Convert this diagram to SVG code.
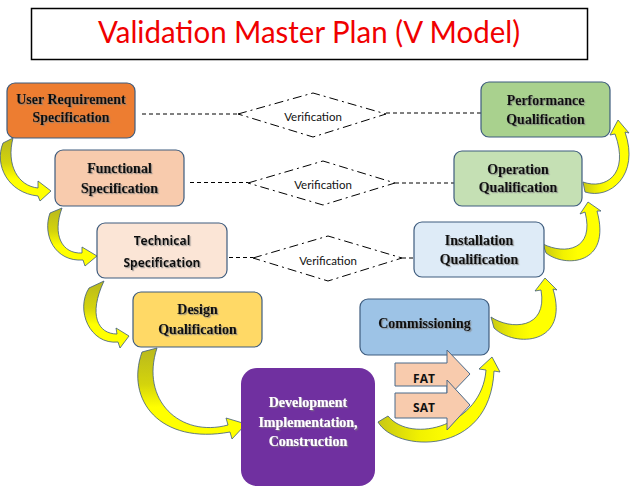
<svg xmlns="http://www.w3.org/2000/svg" width="633" height="491" viewBox="0 0 633 491">
<style>
.box{stroke:#3E5C7E;stroke-width:1.2}
.nt{font-family:"Liberation Serif","Times New Roman",serif;font-weight:bold;font-size:14px;fill:#111;text-anchor:middle;stroke:#111;stroke-width:0.15}
.st{font-family:"Open Sans",Lato,sans-serif;font-weight:bold;font-size:12px;fill:#111;text-anchor:middle}
.ver{font-family:Lato,"Open Sans",sans-serif;font-size:11.5px;fill:#111;text-anchor:middle}
.dash{stroke:#000;stroke-width:1;stroke-dasharray:4 3;fill:none}
.dia{stroke:#000;stroke-width:1;stroke-dasharray:9 4 2 4;fill:#fff}
.cl{fill:url(#gL);stroke:#3E5C7E;stroke-width:0.8}
.cr{fill:url(#gR);stroke:#3E5C7E;stroke-width:0.8}
.blk{fill:#F8CBAD;stroke:#4A6A8A;stroke-width:1}
</style>
<defs>
<filter id="sh" x="-10%" y="-20%" width="130%" height="150%">
<feDropShadow dx="1.2" dy="1.2" stdDeviation="0.6" flood-color="#808080" flood-opacity="0.7"/>
</filter>
<linearGradient id="gL" x1="0" y1="0" x2="0" y2="1">
<stop offset="0" stop-color="#B8B81E"/>
<stop offset="0.4" stop-color="#D4D40C"/>
<stop offset="0.65" stop-color="#FFFF00"/>
</linearGradient>
<linearGradient id="gR" x1="0" y1="0" x2="1" y2="0">
<stop offset="0" stop-color="#C8C814"/>
<stop offset="0.35" stop-color="#F2F200"/>
<stop offset="0.6" stop-color="#FFFF00"/>
</linearGradient>
</defs>
<rect width="633" height="491" fill="#fff"/>

<g id="title">
<rect x="31.5" y="8.5" width="556" height="51" fill="#fff" stroke="#000" stroke-width="1.5"/>
<text x="309" y="43" font-family="Lato,'Open Sans',sans-serif" font-size="30" fill="#F00000" text-anchor="middle" textLength="422" lengthAdjust="spacingAndGlyphs">Validation Master Plan (V Model)</text>
</g>

<g id="connectors">
<path class="dash" d="M142,114 H238"/>
<path class="dash" d="M386,113 H481"/>
<polygon class="dia" points="238,114 313,93 386,114 313,137"/>
<text class="ver" x="313" y="120.5">Verification</text>
<path class="dash" d="M190,182.5 H248"/>
<path class="dash" d="M395,183 H454"/>
<polygon class="dia" points="248,183 323,161 395,183 323,205"/>
<text class="ver" x="323" y="189">Verification</text>
<path class="dash" d="M229,257.5 H253"/>
<path class="dash" d="M402,258 H414"/>
<polygon class="dia" points="253,258 328,236 402,258 328,281"/>
<text class="ver" x="328" y="265">Verification</text>

<path class="cl" d="M3,143 C-6,165 8,193 38,196 L40,201 L51,191 L38,181 L38,188 C18,186 6,165 13,138 Z"/>
<path class="cl" d="M50,213 C42,235 55,262 83,260 L85,266 L97,256 L82,247 L82,253 C62,254 52,235 62,208 Z"/>
<path class="cl" d="M89,288 C75,310 90,345 118,342 L120,348 L129,336 L116,328 L117,334 C98,334 88,315 104,281 Z"/>
<path class="cl" d="M142,352 C125,400 160,445 230,432 L232,439 L246,424 L226,418 L228,425 C180,438 140,400 157,348 Z"/>
<path class="cr" d="M378,422 C395,452 490,458 494,371 L500,372 L492,357 L479,369 L486,370 C482,425 412,445 388,416 Z"/>
<path class="cr" d="M494,328 C515,348 570,345 553,289 L557,290 L545,278 L535,291 L541,290 C548,330 510,330 491,317 Z"/>
<path class="cr" d="M546,253 C565,268 612,265 597,211 L601,211 L588,202 L580,214 L585,212 C595,250 565,255 543,244 Z"/>
<path class="cr" d="M585,192 C610,200 640,175 625,132 L629,133 L618,120 L610,135 L615,134 C630,175 605,190 583,182 Z"/>
</g>

<g id="urs">
<rect class="box" x="7" y="83" width="128" height="55" rx="8" fill="#ED7D31"/>
<g filter="url(#sh)">
<text class="nt" x="71" y="103.5" font-size="12.5">User Requirement</text>
<text class="nt" x="71" y="121.5" font-size="12.5">Specification</text>
</g>
</g>

<g id="fs">
<rect class="box" x="55" y="150" width="129" height="56" rx="8" fill="#F8CBAD"/>
<g filter="url(#sh)">
<text class="nt" x="119.5" y="173">Functional</text>
<text class="nt" x="119.5" y="193">Specification</text>
</g>
</g>

<g id="ts">
<rect class="box" x="97" y="223" width="130" height="55" rx="8" fill="#FBE5D6"/>
<g filter="url(#sh)">
<text class="st" x="162" y="244.5">Technical</text>
<text class="st" x="162" y="266.5">Specification</text>
</g>
</g>

<g id="dq">
<rect class="box" x="133" y="292" width="129" height="55" rx="8" fill="#FFD966"/>
<g filter="url(#sh)">
<text class="nt" x="197.5" y="314">Design</text>
<text class="nt" x="197.5" y="334">Qualification</text>
</g>
</g>

<g id="dev">
<rect x="241" y="368" width="134" height="118" rx="16" fill="#7030A0"/>
<g filter="url(#sh)">
<text class="nt" x="308" y="407" style="fill:#fff;stroke:#fff">Development</text>
<text class="nt" x="308" y="427" style="fill:#fff;stroke:#fff">Implementation,</text>
<text class="nt" x="308" y="446" style="fill:#fff;stroke:#fff">Construction</text>
</g>
</g>

<g id="comm">
<rect class="box" x="360" y="299" width="129" height="56" rx="8" fill="#9DC3E6"/>
<g filter="url(#sh)">
<text class="nt" x="424.5" y="328">Commissioning</text>
</g>
</g>

<g id="fat">
<path class="blk" d="M395,363 H447 V350 L470,374 L447,398 V386 H395 Z"/>
<text class="st" x="424" y="382.5" font-size="12.5">FAT</text>
</g>

<g id="sat">
<path class="blk" d="M395,393 H447 V380 L470,405 L447,430 V418 H395 Z"/>
<text class="st" x="424" y="411.5" font-size="12.5">SAT</text>
</g>

<g id="iq">
<rect class="box" x="414" y="222" width="130" height="55" rx="8" fill="#DEEBF7"/>
<g filter="url(#sh)">
<text class="nt" x="479" y="245">Installation</text>
<text class="nt" x="479" y="264">Qualification</text>
</g>
</g>

<g id="oq">
<rect class="box" x="454" y="151" width="128" height="55" rx="8" fill="#C5E0B4"/>
<g filter="url(#sh)">
<text class="nt" x="518" y="174">Operation</text>
<text class="nt" x="518" y="192">Qualification</text>
</g>
</g>

<g id="pq">
<rect class="box" x="481" y="82" width="129" height="55" rx="8" fill="#A9D18E"/>
<g filter="url(#sh)">
<text class="nt" x="545.5" y="105">Performance</text>
<text class="nt" x="545.5" y="124">Qualification</text>
</g>
</g>
</svg>
